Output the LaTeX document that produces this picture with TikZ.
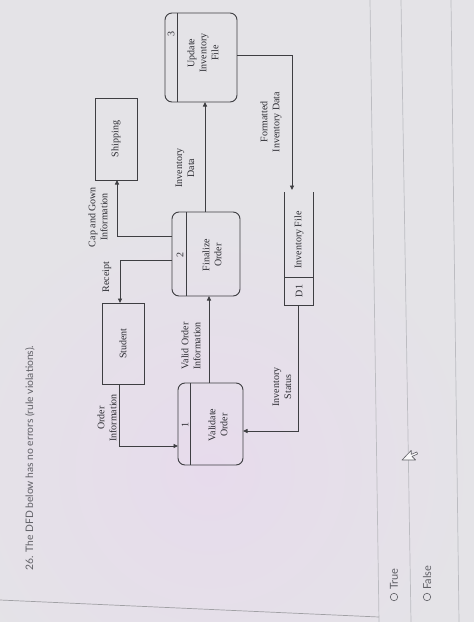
\documentclass[tikz,border=0pt]{standalone}
\usepackage{fontspec}
\setmainfont{Liberation Serif}
\newfontfamily\uifont{Lato}
\usetikzlibrary{arrows.meta}
\definecolor{bg}{RGB}{228,227,231}
\definecolor{tint}{RGB}{231,219,236}
\definecolor{ink}{RGB}{62,62,66}
\definecolor{txt}{RGB}{44,44,50}
\definecolor{ui}{RGB}{96,96,102}
\definecolor{pagerule}{RGB}{188,188,193}
\begin{document}
\begin{tikzpicture}[x=1pt,y=-1pt,
  shapebox/.style={draw=ink, line width=0.95pt, inner sep=0pt, outer sep=0pt},
  entity/.style={shapebox},
  process/.style={shapebox, rounded corners=7pt},
  store/.style={inner sep=0pt, outer sep=0pt},
  wire/.style={draw=ink, line width=0.95pt},
  flow/.style={draw=ink, line width=0.85pt, -{Triangle[length=4.5pt,width=4pt]}},
  lbl/.style={rotate=90, text=txt, font=\fontsize{10}{12}\selectfont, align=center, inner sep=0pt},
  uitext/.style={rotate=90, text=ui, font=\uifont\fontsize{10.3}{12}\selectfont, inner sep=0pt},
  optext/.style={rotate=90, text=ui, font=\uifont\fontsize{11}{13}\selectfont, inner sep=0pt},
  radio/.style={circle, draw=ui, line width=0.6pt, minimum size=7.5pt, inner sep=0pt}
]
\useasboundingbox (0,0) rectangle (474,622);
\fill[bg] (0,0) rectangle (474,622);
\begin{scope}
\clip (0,0) rectangle (474,622);
\shade[inner color=tint, outer color=bg] (210,470) circle[radius=270pt];
\end{scope}

% page rules of the screen
\draw[pagerule, line width=0.7pt] (370,0) -- (379,622);
\draw[pagerule, line width=0.7pt] (401,0) -- (411,622);
\draw[pagerule, line width=0.7pt] (451,0) -- (459,622);
\draw[pagerule!85!black, line width=0.7pt] (0,600) -- (379,617);

% question text
\node[uitext] (title) at (30,458) {26. The DFD below has no errors (rule violations).};

% external entities
\node[entity, minimum width=42pt, minimum height=81pt] (student) at (123,343.5) {};
\node[lbl] (studentt) at (student) {Student};
\node[entity, minimum width=42pt, minimum height=82pt] (shipping) at (116,139) {};
\node[lbl] (shippingt) at (shipping) {Shipping};

% processes
\node[process, minimum width=65pt, minimum height=82pt] (validate) at (210.5,424) {};
\draw[wire] ([xshift=12pt]validate.north west) -- ([xshift=12pt]validate.south west);
\node[lbl] (validateid) at (185,425) {1};
\node[lbl] (validatet) at (218,425) {Validate\\Order};

\node[process, minimum width=68pt, minimum height=84pt] (finalize) at (206,254) {};
\draw[wire] ([xshift=14pt]finalize.north west) -- ([xshift=14pt]finalize.south west);
\node[lbl] (finalizeid) at (180,255) {2};
\node[lbl] (finalizet) at (212,255) {Finalize\\Order};

\node[process, minimum width=72pt, minimum height=89pt] (update) at (201,57.5) {};
\draw[wire] ([xshift=12pt]update.north west) -- ([xshift=12pt]update.south west);
\node[lbl] (updateid) at (171,34) {3};
\node[lbl] (updatet) at (203,53) {Update\\Inventory\\File};

% data store
\node[store, minimum width=29pt, minimum height=113pt] (store) at (298.5,248.5) {};
\draw[wire] (store.north west) -- (store.south west) -- (store.south east) -- (store.north east);
\draw[wire] ([yshift=28pt]store.south west) -- ([yshift=28pt]store.south east);
\node[lbl] (storeid) at (299,291) {D1};
\node[lbl] (storet) at (299,240) {Inventory File};

% data flows
\draw[flow] ([xshift=-4pt]student.south) |- ([yshift=-22pt]validate.west);
\node[lbl] (l1) at (107,418) {Order\\Information};

\draw[flow] ([xshift=-1.5pt]validate.north) -- ([xshift=-1.5pt]validate.north |- finalize.south);
\node[lbl] (l2) at (191,346) {Valid Order\\Information};

\draw[flow] ([xshift=-0.5pt]store.south) |- ([yshift=-7pt]validate.east);
\node[lbl] (l3) at (282,387) {Inventory\\Status};

\draw[flow] ([yshift=-6pt]finalize.west) -| ([xshift=-3pt]student.north);
\node[lbl] (l4) at (107,277) {Receipt};

\draw[flow] ([yshift=18pt]finalize.west) -| ([xshift=1pt]shipping.south);
\node[lbl] (l5) at (98,217) {Cap and Gown\\Information};

\draw[flow] ([xshift=-1pt]finalize.north) -- ([xshift=-1pt]finalize.north |- update.south);
\node[lbl] (l6) at (185,168) {Inventory\\Data};

\draw[flow] ([yshift=2.5pt]update.east) -| ([xshift=-6.5pt,yshift=2pt]store.north);
\node[lbl] (l7) at (271,122) {Formatted\\Inventory Data};

% answer options
\node[radio] (rtrue) at (394,597) {};
\node[optext, anchor=west] (ttrue) at ([yshift=7pt]rtrue.center) {True};
\node[radio] (rfalse) at (427,597) {};
\node[optext, anchor=west] (tfalse) at ([yshift=7pt]rfalse.center) {False};

% mouse cursor
\begin{scope}[shift={(402,460)}, scale=0.8]
\draw[ui, line width=0.6pt, fill=white!80!bg, line join=round]
  (0,0) -- (17,0) -- (12.5,-4.5) -- (19.5,-7.5) -- (18.5,-10) -- (11.5,-7) -- (11.5,-12) -- cycle;
\end{scope}
\end{tikzpicture}
\end{document}
